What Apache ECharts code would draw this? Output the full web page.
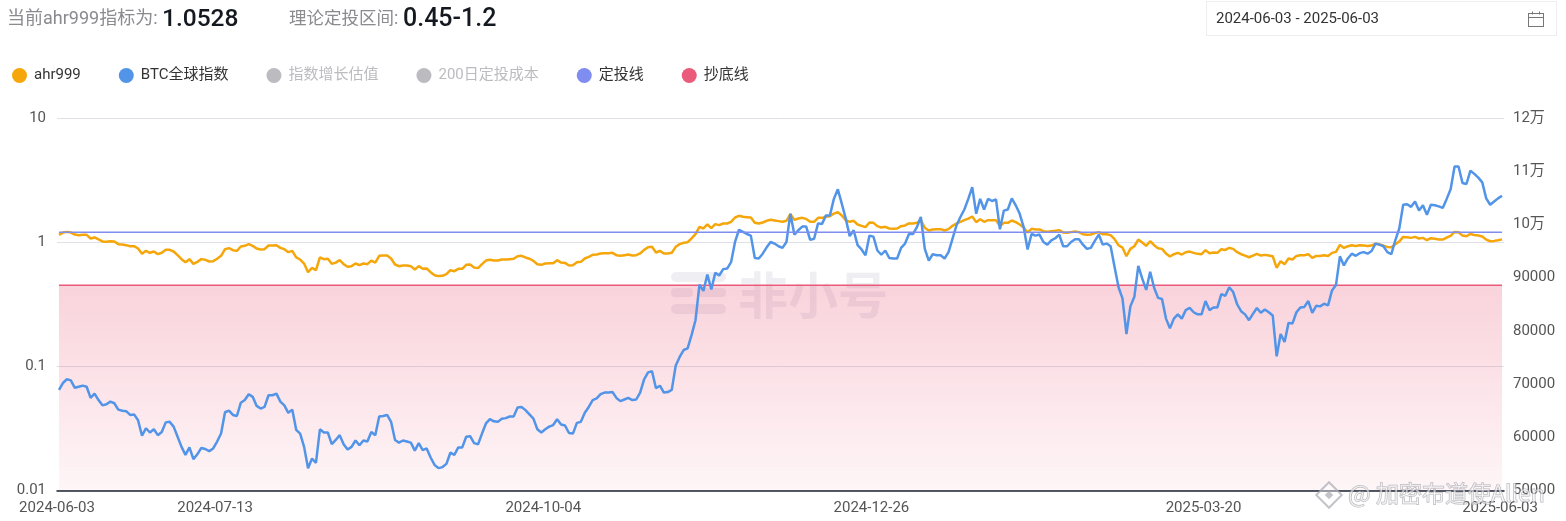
<!DOCTYPE html>
<html>
<head>
<meta charset="utf-8">
<title>ahr999</title>
<script src="https://cdn.jsdelivr.net/npm/echarts@6/dist/echarts.min.js"></script>
<style>
html, body { margin: 0; padding: 0; background: #fff; font-family: Roboto, "Noto Sans CJK SC", sans-serif; }
#wrap { position: relative; width: 1566px; height: 521px; overflow: hidden; }
#main { position: absolute; left: 0; top: 0; width: 1566px; height: 521px; }
.lab { position: absolute; top: 6px; font-size: 18px; line-height: 24px; color: #8a8a8f; white-space: nowrap; }
.num { position: absolute; top: 3px; font-size: 24.5px; font-weight: 500; line-height: 30px; color: #14181f; white-space: nowrap; }
#range { position: absolute; left: 1206px; top: 1px; width: 349px; height: 33px; border: 1px solid #eeeef0; font-size: 15px; line-height: 33px; color: #333; }
#range span { position: absolute; left: 9px; }
#range svg { position: absolute; left: 320px; top: 8px; }
</style>
</head>
<body>
<div id="wrap">
  <div id="main"></div>
  <div class="lab" style="left:7px">当前ahr999指标为:</div>
  <div class="num" style="left:162px">1.0528</div>
  <div class="lab" style="left:289px;font-size:17.5px">理论定投区间:</div>
  <div class="num" style="left:403px;font-size:25px">0.45-1.2</div>
  <div id="range"><span>2024-06-03 - 2025-06-03</span>
    <svg width="18" height="18" viewBox="0 0 18 18" fill="none" stroke="#777" stroke-width="1"><rect x="1.5" y="3.5" width="15" height="13"/><path d="M1.5 7.5h15M5.5 1.5v3M12.5 1.5v3"/></svg>
  </div>
</div>
<script>
var tickLabels = ['2024-06-03', '2024-07-13', '2024-10-04', '2024-12-26', '2025-03-20', '2025-06-03'];
var startDate = Date.UTC(2024, 5, 3);
var dayCount = 366;
var dingtouValue = 1.2;
var chaodiValue = 0.45;

var btcIndex = [
  68900,70200,70900,70700,69300,69500,69700,69500,67400,68200,
  67000,66000,66200,66700,66400,65200,65000,64900,64200,64300,
  63200,60300,61700,60900,61500,60400,61000,62800,62900,62000,
  60100,58200,56700,58100,55900,56800,58000,57800,57400,57900,
  59200,60700,64700,65000,64200,64000,66500,67000,68100,67600,
  65900,65400,65700,67900,67900,68200,66700,66000,64600,65200,
  61400,60700,58200,54200,56000,55200,61500,60900,60900,58700,
  59500,60400,58700,57700,58200,59400,58500,59400,59200,61000,
  60400,63900,64000,64200,62900,59500,59000,59400,59200,59000,
  57500,58900,57600,57900,56200,54800,54200,54400,55000,57100,
  56700,58100,58100,60100,60200,58900,58700,60700,62600,63400,
  63000,62900,63500,63600,63900,63900,65600,65700,65100,64300,
  63500,61500,60900,61500,62000,62300,63400,62400,62200,60800,
  60700,62700,62900,64600,65700,67000,67300,68100,68400,68400,
  68500,67400,66800,67100,67400,67000,67100,68400,70900,72200,
  72400,69200,69700,68400,68500,68900,73500,75100,76400,76700,
  79200,82000,88700,87500,90600,87800,90900,90400,91600,91700,
  92900,96700,99000,98600,98200,97900,93700,93600,94500,95700,
  96700,96400,95900,95600,96700,102000,98100,98900,99600,99600,
  97100,97300,100200,100100,101700,101700,104800,106600,103900,101100,
  97800,98900,96100,95300,94200,97900,97700,95100,94300,95100,
  93700,93600,93600,95600,96400,98200,98200,99500,101400,95400,
  93200,94400,94200,94200,93600,94800,97300,99800,101400,102800,
  104800,107000,102000,104800,102800,104800,104400,104700,99100,102600,
  102800,104900,103600,102000,99500,95300,98200,97900,98100,96700,
  96200,97000,97400,98100,95900,95900,96700,97200,97200,96200,
  95400,95600,96900,98100,96200,96400,95900,92000,88200,86100,
  79400,84600,86400,92200,89800,87700,91100,88100,86200,86000,
  82300,80500,82300,83100,82300,83900,84300,83500,83100,83100,
  85600,83900,84400,84400,86900,86600,88200,87300,85000,83700,
  83100,82000,83200,84300,83400,84000,83500,82900,75200,79400,
  77900,81500,81400,83500,84400,84500,85600,83400,84700,84600,
  85100,84800,87600,88600,94000,92300,93600,94500,94100,94600,
  94800,94500,95000,96400,96200,95900,94800,94400,97000,99200,
  103700,103800,103300,104300,102600,103600,101800,103700,103600,103400,
  103100,104800,106600,110900,110900,107800,107600,110100,109500,108800,
  107900,104900,103700,104300,104900,105400
];

var ahr999 = [
  1.145,1.195,1.21,1.195,1.152,1.138,1.145,1.145,1.071,1.091,
  1.051,1.013,1.007,1.019,1.013,.964,.958,.946,.928,.928,
  .889,.806,.851,.821,.841,.801,.821,.867,.867,.841,
  .786,.73,.69,.73,.669,.694,.73,.721,.699,.703,
  .735,.776,.878,.895,.862,.851,.923,.934,.964,.934,
  .889,.872,.878,.94,.94,.946,.9,.878,.831,.851,
  .753,.725,.673,.573,.621,.595,.753,.73,.735,.669,
  .685,.716,.665,.633,
  .641,.673,.653,.673,.665,.711,.685,.776,.781,.781,
  .739,.661,.641,.649,.649,.641,.603,.641,.61,.614,
  .573,.542,.533,.536,.552,.595,.584,.61,.61,.657,
  .661,.625,.618,.665,.711,.721,.711,.711,.725,.725,
  .73,.735,.771,.776,.753,.735,.707,.665,.657,.673,
  .677,.677,.716,.685,.681,.649,.653,.69,.694,.739,
  .762,.791,.796,.811,.816,.816,.821,.786,.776,.786,
  .796,.781,.786,.811,.867,.911,.917,.826,.851,.811,
  .811,.821,.917,.964,.988,1.0,1.071,1.16,
  1.329,1.289,1.388,1.297,1.397,1.371,1.414,1.414,1.459,1.58,
  1.63,1.6,1.59,1.58,1.431,1.414,1.44,1.486,1.513,1.495,
  1.477,1.459,1.486,1.68,1.513,1.55,1.57,1.54,1.459,1.459,
  1.57,1.57,1.6,1.62,1.7,1.745,1.64,1.504,1.459,1.486,
  1.388,1.354,1.321,1.44,1.431,1.346,1.313,1.329,1.289,1.281,
  1.289,1.346,1.363,1.414,1.414,1.431,1.504,1.305,1.242,1.265,
  1.273,1.273,1.242,1.273,1.354,1.414,1.459,1.504,1.55,1.61,
  1.45,1.53,1.459,1.504,1.504,1.504,1.346,1.431,1.431,1.495,
  1.45,1.388,1.313,1.197,1.281,1.265,1.265,1.227,1.212,1.227,
  1.235,1.25,1.197,1.19,1.205,1.22,1.205,
  1.16,1.147,1.154,1.182,1.205,1.16,1.16,1.14,1.058,
  .945,.905,.77,.883,.927,1.05,.993,.933,1.017,.945,
  .894,.883,.81,.766,.8,.82,.795,.83,.84,.82,
  .805,.8,.861,.815,.825,.82,.877,.866,.899,.883,
  .83,.8,.78,.756,.78,.805,.78,.79,.78,.77,
  .621,.703,.665,.738,.725,.775,.785,.785,.8,.747,
  .775,.775,.785,.775,.82,.835,.951,.899,.927,.945,
  .933,.945,.939,.933,.939,.975,.957,.939,.916,.91,
  .963,1.011,1.103,1.096,1.083,1.103,1.07,1.083,1.037,1.076,
  1.064,1.05,1.05,1.09,1.123,1.21,1.203,1.13,1.116,1.165,
  1.144,1.13,1.11,1.05,1.017,1.024,1.037,1.0528
];

var dates = [];
for (var i = 0; i < dayCount; i++) {
  dates.push(new Date(startDate + i * 86400000).toISOString().slice(0, 10));
}
var firstDate = dates[0], lastDate = dates[dates.length - 1];

var myChart = echarts.init(document.getElementById('main'));
var uiFont = 'Roboto, "Noto Sans CJK SC", sans-serif';

var option = {
  animation: false,
  textStyle: { fontFamily: uiFont },
  color: ['#F5A60A', '#5294E8', '#B8B8BE', '#B8B8BE', '#7F8CF0', '#EA5B7B'],
  legend: {
    left: 12,
    top: 68,
    padding: 0,
    icon: 'circle',
    itemWidth: 15,
    itemHeight: 15,
    itemGap: 38,
    inactiveColor: '#BBBBC0',
    textStyle: { fontSize: 15, color: '#333', fontFamily: uiFont, padding: [0, 0, 0, 2] },
    selected: { '指数增长估值': false, '200日定投成本': false },
    data: ['ahr999', 'BTC全球指数', '指数增长估值', '200日定投成本', '定投线', '抄底线']
  },
  grid: { left: 57, right: 62, top: 118, bottom: 30.5 },
  xAxis: {
    type: 'category',
    data: dates,
    axisLine: { lineStyle: { color: '#1B2430', width: 1.5 } },
    axisTick: {
      length: 5,
      lineStyle: { color: '#1B2430' },
      interval: function (index, value) { return tickLabels.indexOf(value) >= 0; }
    },
    axisLabel: {
      color: '#555',
      fontSize: 15,
      margin: 10,
      padding: [0, 4, 0, 0],
      interval: function (index, value) { return tickLabels.indexOf(value) >= 0; }
    }
  },
  yAxis: [{
    type: 'log',
    logBase: 10,
    min: 0.01,
    max: 10,
    axisLine: { show: false },
    axisTick: { show: false },
    axisLabel: { color: '#555', fontSize: 15, margin: 11 },
    splitLine: { lineStyle: { color: '#E0E0EA' } }
  }, {
    type: 'value',
    min: 50000,
    max: 120000,
    interval: 10000,
    axisLine: { show: false },
    axisTick: { show: false },
    splitLine: { show: false },
    axisLabel: {
      color: '#555',
      fontSize: 15,
      margin: 9,
      formatter: function (v) { return v >= 100000 ? (v / 10000) + '万' : v; }
    }
  }],
  series: [
    { name: 'ahr999', type: 'line', yAxisIndex: 0, showSymbol: false, data: ahr999, lineStyle: { width: 2.5 }, z: 3 },
    { name: 'BTC全球指数', type: 'line', yAxisIndex: 1, showSymbol: false, data: btcIndex, lineStyle: { width: 2.5 }, z: 4 },
    { name: '指数增长估值', type: 'line', yAxisIndex: 1, showSymbol: false, data: [] },
    { name: '200日定投成本', type: 'line', yAxisIndex: 1, showSymbol: false, data: [] },
    {
      name: '定投线', type: 'line', yAxisIndex: 0, showSymbol: false,
      data: [[firstDate, dingtouValue], [lastDate, dingtouValue]],
      lineStyle: { width: 1.5 }, z: 5
    },
    {
      name: '抄底线', type: 'line', yAxisIndex: 0, showSymbol: false,
      data: [[firstDate, chaodiValue], [lastDate, chaodiValue]],
      lineStyle: { width: 1.5 },
      areaStyle: {
        opacity: 1,
        origin: 'start',
        color: new echarts.graphic.LinearGradient(0, 0, 0, 1, [
          { offset: 0, color: 'rgba(232,70,105,0.24)' },
          { offset: 1, color: 'rgba(232,70,105,0.05)' }
        ])
      },
      z: 2
    }
  ],
  graphic: [
    // 非小号 watermark
    { type: 'rect', silent: true, z: 1, shape: { x: 671, y: 272, width: 55, height: 10, r: 5 }, style: { fill: 'rgba(170,170,195,0.2)' } },
    { type: 'rect', silent: true, z: 1, shape: { x: 671, y: 288, width: 22, height: 9, r: 4 }, style: { fill: 'rgba(170,170,195,0.2)' } },
    { type: 'rect', silent: true, z: 1, shape: { x: 698, y: 288, width: 28, height: 9, r: 4 }, style: { fill: 'rgba(170,170,195,0.2)' } },
    { type: 'rect', silent: true, z: 1, shape: { x: 671, y: 304, width: 55, height: 10, r: 5 }, style: { fill: 'rgba(170,170,195,0.2)' } },
    { type: 'text', silent: true, z: 1, x: 738, y: 270, style: { text: '非小号', font: 'bold 50px "Noto Sans CJK SC"', fill: 'rgba(170,170,195,0.2)' } },
    // 右下角水印
    { type: 'rect', silent: true, z: 20, x: 1329, y: 495, rotation: Math.PI / 4, originX: 0, originY: 0, shape: { x: -9, y: -9, width: 18, height: 18 }, style: { fill: 'rgba(255,255,255,0.4)', stroke: 'rgba(170,170,180,0.7)', lineWidth: 2 } },
    { type: 'rect', silent: true, z: 20, x: 1329, y: 495, rotation: Math.PI / 4, originX: 0, originY: 0, shape: { x: -3, y: -3, width: 6, height: 6 }, style: { fill: 'rgba(170,170,180,0.7)' } },
    { type: 'text', silent: true, z: 20, x: 1348, y: 482, style: { text: '@', font: '24px "Noto Sans CJK SC"', fill: 'rgba(255,255,255,0.55)', stroke: 'rgba(130,130,140,0.6)', lineWidth: 1 } },
    { type: 'text', silent: true, z: 20, x: 1376, y: 482, style: { text: '加密布道使Allen', font: '23px "Noto Sans CJK SC"', fill: 'rgba(255,255,255,0.55)', stroke: 'rgba(130,130,140,0.6)', lineWidth: 1 } }
  ]
};
myChart.setOption(option);
</script>
</body>
</html>
